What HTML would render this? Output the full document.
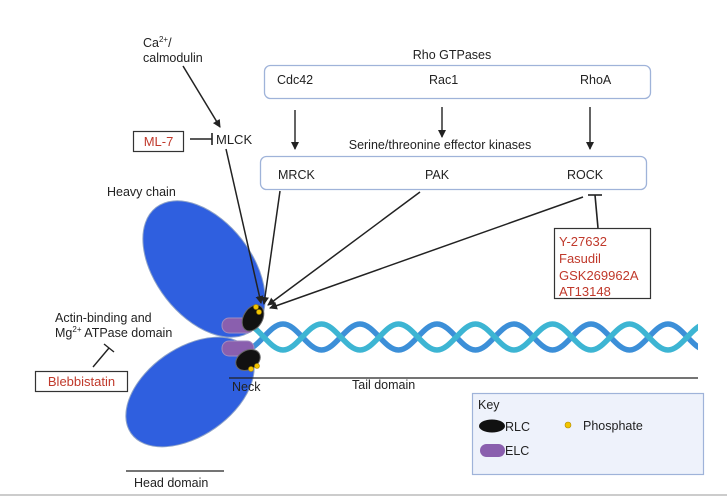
<!DOCTYPE html>
<html><head><meta charset="utf-8"><style>
html,body{margin:0;padding:0;background:#fff;}
svg{display:block;font-family:"Liberation Sans",sans-serif;}
</style></head><body>
<svg width="727" height="496" viewBox="0 0 727 496" xmlns="http://www.w3.org/2000/svg">
<defs>
<marker id="ah" markerWidth="8" markerHeight="8" refX="7" refY="4" orient="auto" markerUnits="userSpaceOnUse"><path d="M0,0 L8,4 L0,8 Z" fill="#222"/></marker>
<clipPath id="hc"><rect x="250" y="300" width="448" height="70"/></clipPath>
</defs>
<rect width="727" height="496" fill="#fff"/>
<text x="143" y="47" font-size="12.5" fill="#222">Ca<tspan font-size="8" dy="-5">2+</tspan><tspan dy="5">/</tspan></text>
<text x="143" y="62" font-size="12.5" fill="#222">calmodulin</text>
<line x1="183" y1="66" x2="220" y2="127" stroke="#222" stroke-width="1.5" marker-end="url(#ah)"/>
<rect x="133.5" y="131.5" width="50" height="20" fill="#fff" stroke="#333" stroke-width="1.2"/>
<text x="158.5" y="146" font-size="13" fill="#c0392b" text-anchor="middle">ML-7</text>
<line x1="190" y1="139" x2="212" y2="139" stroke="#222" stroke-width="1.6"/>
<line x1="212" y1="133" x2="212" y2="145" stroke="#222" stroke-width="1.6"/>
<text x="216" y="144" font-size="13" fill="#222">MLCK</text>
<text x="452" y="59" font-size="12.5" fill="#222" text-anchor="middle">Rho GTPases</text>
<rect x="264.5" y="65.5" width="386" height="33" rx="6" fill="#fff" stroke="#9fb3d9" stroke-width="1.3"/>
<text x="277" y="84" font-size="12.5" fill="#222">Cdc42</text>
<text x="429" y="84" font-size="12.5" fill="#222">Rac1</text>
<text x="580" y="84" font-size="12.5" fill="#222">RhoA</text>
<line x1="295" y1="110" x2="295" y2="149" stroke="#222" stroke-width="1.4" marker-end="url(#ah)"/>
<line x1="442" y1="107" x2="442" y2="137" stroke="#222" stroke-width="1.4" marker-end="url(#ah)"/>
<line x1="590" y1="107" x2="590" y2="149" stroke="#222" stroke-width="1.4" marker-end="url(#ah)"/>
<text x="440" y="149" font-size="12.5" fill="#222" text-anchor="middle">Serine/threonine effector kinases</text>
<rect x="260.5" y="156.5" width="386" height="33" rx="6" fill="#fff" stroke="#9fb3d9" stroke-width="1.3"/>
<text x="278" y="179" font-size="12.5" fill="#222">MRCK</text>
<text x="425" y="179" font-size="12.5" fill="#222">PAK</text>
<text x="567" y="179" font-size="12.5" fill="#222">ROCK</text>
<line x1="588" y1="195" x2="602" y2="195" stroke="#222" stroke-width="1.6"/>
<line x1="595" y1="195" x2="598" y2="228" stroke="#222" stroke-width="1.6"/>
<rect x="554.5" y="228.5" width="96" height="70" fill="#fff" stroke="#333" stroke-width="1.2"/>
<text x="559" y="246" font-size="13" fill="#c0392b">Y-27632</text>
<text x="559" y="263" font-size="13" fill="#c0392b">Fasudil</text>
<text x="559" y="280" font-size="13" fill="#c0392b">GSK269962A</text>
<text x="559" y="296" font-size="13" fill="#c0392b">AT13148</text>
<text x="107" y="196" font-size="12.5" fill="#222">Heavy chain</text>
<ellipse cx="204" cy="269" rx="78" ry="48" transform="rotate(52 204 269)" fill="#2f5fdf" stroke="#8ea3c8" stroke-width="1"/>
<ellipse cx="190" cy="392" rx="72" ry="44" transform="rotate(-35 190 392)" fill="#2f5fdf" stroke="#8ea3c8" stroke-width="1"/>
<g clip-path="url(#hc)" fill="none" stroke-width="5.5">
<path stroke="#3c8fd8" d="M244.5,350 C258.4,350 269.1,324 283,324 S307.6,350 321.5,350 S346.1,324 360,324 S384.6,350 398.5,350 S423.1,324 437,324 S461.6,350 475.5,350 S500.1,324 514,324 S538.6,350 552.5,350 S577.1,324 591,324 S615.6,350 629.5,350 S654.1,324 668,324 S692.6,350 706.5,350"/>
<path stroke="#3db5d3" d="M244.5,324 C258.4,324 269.1,350 283,350 S307.6,324 321.5,324 S346.1,350 360,350 S384.6,324 398.5,324 S423.1,350 437,350 S461.6,324 475.5,324 S500.1,350 514,350 S538.6,324 552.5,324 S577.1,350 591,350 S615.6,324 629.5,324 S654.1,350 668,350 S692.6,324 706.5,324"/>
</g>
<rect x="222" y="318" width="32" height="15" rx="7" fill="#8a5fae" stroke="#a08cc0" stroke-width="1"/>
<rect x="222" y="341" width="32" height="15" rx="7" fill="#8a5fae" stroke="#a08cc0" stroke-width="1"/>
<ellipse cx="253" cy="318" rx="9.5" ry="14" transform="rotate(30 253 318)" fill="#111" stroke="#666" stroke-width="1"/>
<ellipse cx="248" cy="360" rx="9.5" ry="13" transform="rotate(60 248 360)" fill="#111" stroke="#666" stroke-width="1"/>
<circle cx="256" cy="307" r="2.5" fill="#f2c500" stroke="#b08a00" stroke-width="0.6"/>
<circle cx="259" cy="312" r="2.5" fill="#f2c500" stroke="#b08a00" stroke-width="0.6"/>
<circle cx="251" cy="369" r="2.5" fill="#f2c500" stroke="#b08a00" stroke-width="0.6"/>
<circle cx="257" cy="366" r="2.5" fill="#f2c500" stroke="#b08a00" stroke-width="0.6"/>
<g stroke="#222" stroke-width="1.5" marker-end="url(#ah)">
<line x1="226" y1="149" x2="261" y2="303"/>
<line x1="280" y1="191" x2="264" y2="304"/>
<line x1="420" y1="192" x2="268" y2="305"/>
<line x1="583" y1="197" x2="270" y2="308"/>
</g>
<text x="55" y="322" font-size="12.5" fill="#222">Actin-binding and</text>
<text x="55" y="337" font-size="12.5" fill="#222">Mg<tspan font-size="8" dy="-5">2+</tspan><tspan dy="5"> ATPase domain</tspan></text>
<line x1="93" y1="367" x2="109" y2="348" stroke="#222" stroke-width="1.4"/>
<line x1="104" y1="344" x2="114" y2="352" stroke="#222" stroke-width="1.4"/>
<rect x="35.5" y="371.5" width="92" height="20" fill="#fff" stroke="#333" stroke-width="1.2"/>
<text x="81.5" y="386" font-size="13" fill="#c0392b" text-anchor="middle">Blebbistatin</text>
<line x1="229" y1="378" x2="698" y2="378" stroke="#222" stroke-width="1.3"/>
<text x="232" y="391" font-size="12.5" fill="#222">Neck</text>
<text x="352" y="389" font-size="12.5" fill="#222">Tail domain</text>
<line x1="126" y1="471" x2="224" y2="471" stroke="#222" stroke-width="1.3"/>
<text x="134" y="487" font-size="12.5" fill="#222">Head domain</text>
<rect x="472.5" y="393.5" width="231" height="81" fill="#eef2fb" stroke="#9fb3d9" stroke-width="1.2"/>
<text x="478" y="409" font-size="12.5" fill="#222">Key</text>
<ellipse cx="492" cy="426" rx="13" ry="6.5" fill="#111"/>
<text x="505" y="431" font-size="12.5" fill="#222">RLC</text>
<rect x="480" y="444" width="25" height="13" rx="6.5" fill="#8a5fae"/>
<text x="505" y="455" font-size="12.5" fill="#222">ELC</text>
<circle cx="568" cy="425" r="3" fill="#f2c500" stroke="#b08a00" stroke-width="0.6"/>
<text x="583" y="430" font-size="12.5" fill="#222">Phosphate</text>
<line x1="0" y1="495" x2="727" y2="495" stroke="#bbb" stroke-width="1.5"/>
</svg>
</body></html>
